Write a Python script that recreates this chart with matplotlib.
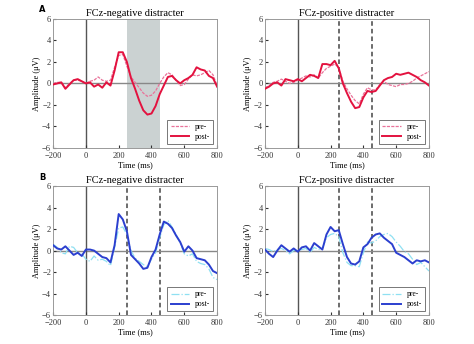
import numpy as np
import matplotlib.pyplot as plt

plt.rcParams['font.family'] = ['Liberation Serif', 'DejaVu Serif']

# time axis (ms), sampled every 25 ms
t = np.arange(-200, 801, 25)

# A: FCz-negative distracter (red)
neg_red_pre = [0.0, 0.1, 0.1, -0.4, 0.0, 0.3, 0.3, 0.2, 0.0, 0.2, 0.3, 0.6, 0.3, 0.2, 0.3, 1.5,
               2.6, 2.7, 1.6, 0.6, 0.1, -0.4, -0.9, -1.2, -1.1, -0.7, 0.0, 0.6, 1.0, 0.8, 0.3,
               -0.2, -0.1, 0.4, 0.8, 0.7, 0.8, 1.0, 1.2, 0.8, -0.2]
neg_red_post = [-0.1, 0.0, 0.1, -0.5, -0.1, 0.3, 0.4, 0.2, 0.0, 0.1, -0.3, -0.1, -0.4, 0.1, -0.2,
                1.2, 2.9, 2.9, 2.0, 0.5, -0.5, -1.6, -2.5, -2.9, -2.8, -2.1, -1.0, -0.2, 0.6, 0.7,
                0.3, 0.0, 0.3, 0.5, 0.8, 1.5, 1.3, 1.2, 0.7, 0.5, -0.3]

# A: FCz-positive distracter (red)
pos_red_pre = [-0.4, -0.2, 0.1, 0.2, 0.4, 0.2, 0.0, 0.1, 0.3, 0.5, 0.7, 0.6, 0.8, 0.5, 1.0, 1.4,
               1.6, 1.8, 1.5, 0.2, -0.5, -1.1, -1.6, -1.9, -1.0, -0.4, -0.6, -0.6, -0.1, 0.2,
               -0.1, -0.2, -0.3, -0.1, -0.1, 0.0, 0.2, 0.5, 0.7, 0.9, 1.1]
pos_red_post = [-0.5, -0.3, 0.0, 0.1, -0.2, 0.4, 0.3, 0.2, 0.4, 0.2, 0.5, 0.8, 0.7, 0.5, 1.8, 1.8,
                1.7, 2.1, 1.4, 0.0, -0.9, -1.7, -2.3, -2.2, -1.3, -0.7, -0.8, -0.7, -0.2, 0.3,
                0.5, 0.6, 0.9, 0.8, 0.9, 1.0, 0.8, 0.6, 0.3, 0.1, -0.2]

# B: FCz-negative distracter (blue)
neg_blue_pre = [0.6, 0.3, -0.2, -0.3, 0.4, 0.3, -0.2, -0.3, -0.8, -1.0, -0.5, -0.9, -0.8, -1.0,
                -1.4, 0.3, 2.1, 2.2, 1.5, 0.0, -0.7, -1.0, -1.3, -1.5, -0.8, -0.2, 1.2, 2.4, 2.8,
                2.2, 1.5, 0.7, -0.3, -0.5, -0.3, -1.0, -1.2, -1.3, -1.7, -2.5, -2.7]
neg_blue_post = [0.5, 0.2, 0.1, 0.4, 0.0, -0.4, -0.2, -0.5, 0.1, 0.1, 0.0, -0.3, -0.6, -0.7,
                 -1.1, 0.5, 3.4, 2.9, 1.8, -0.4, -0.8, -1.2, -1.7, -1.6, -0.6, 0.1, 1.5, 2.7, 2.5,
                 2.1, 1.4, 0.8, -0.1, 0.4, 0.0, -0.7, -0.8, -0.9, -1.3, -1.9, -2.1]

# B: FCz-positive distracter (blue)
pos_blue_pre = [0.2, 0.1, -0.1, 0.1, 0.2, 0.0, -0.3, 0.0, 0.0, 0.1, 0.2, -0.2, 0.3, 0.1, 0.2, 1.2,
                1.5, 1.6, 1.3, -0.2, -1.1, -1.4, -1.4, -1.5, -0.2, 0.8, 0.7, 0.9, 1.3, 1.5, 1.6,
                1.3, 0.8, 0.4, -0.1, -0.3, -0.8, -1.3, -1.1, -1.5, -1.9]
pos_blue_post = [0.1, -0.3, -0.6, 0.0, 0.5, 0.2, -0.1, 0.2, -0.1, 0.3, 0.4, 0.0, 0.7, 0.4, 0.1,
                 1.5, 2.2, 1.8, 1.9, 0.6, -0.6, -1.2, -1.3, -1.0, 0.3, 0.6, 1.2, 1.5, 1.6, 1.2,
                 0.9, 0.6, -0.2, -0.4, -0.6, -0.9, -1.2, -0.9, -1.0, -0.9, -1.1]

titles = ['FCz-negative distracter', 'FCz-positive distracter']
xticks = [-200, 0, 200, 400, 600, 800]
yticks = [-6, -4, -2, 0, 2, 4, 6]

red, pink = '#e3123f', '#e9739a'
blue, cyan = '#2b3fcf', '#8fe0f2'

fig = plt.figure(figsize=(4.74, 3.44), dpi=100)
boxes = [[0.112, 0.570, 0.346, 0.375], [0.559, 0.570, 0.346, 0.375],
         [0.112, 0.084, 0.346, 0.375], [0.559, 0.084, 0.346, 0.375]]
series = [(neg_red_pre, neg_red_post, pink, red),
          (pos_red_pre, pos_red_post, pink, red),
          (neg_blue_pre, neg_blue_post, cyan, blue),
          (pos_blue_pre, pos_blue_post, cyan, blue)]

for i, (box, (pre, post, c_pre, c_post)) in enumerate(zip(boxes, series)):
    ax = fig.add_axes(box)
    ax.set_xlim(-200, 800)
    ax.set_ylim(-6, 6)
    if i == 0:
        ax.axvspan(250, 450, color='#cbd2d2', lw=0, zorder=0)
    else:
        for x in (250, 450):
            ax.axvline(x, color='#444444', ls=(0, (3, 2)), lw=1.1, zorder=1)
    ax.axhline(0, color='#888888', lw=1.0, zorder=1)
    ax.axvline(0, color='#555555', lw=1.0, zorder=1)
    if c_post == red:
        ax.plot(t, pre, color=c_pre, lw=0.9, ls=(0, (2.5, 1)), label='pre-', zorder=2)
    else:
        ax.plot(t, pre, color=c_pre, lw=0.9, ls='-.', label='pre-', zorder=2)
    ax.plot(t, post, color=c_post, lw=1.4, label='post-', zorder=3)
    ax.set_xticks(xticks)
    ax.set_yticks(yticks)
    ax.tick_params(direction='in', length=2.5, labelsize=6, pad=1.5, colors='#333333')
    ax.tick_params(axis='x', pad=3)
    for s in ax.spines.values():
        s.set_color('#999999')
        s.set_linewidth(0.7)
    ax.set_title(titles[i % 2], fontsize=7.5, pad=2)
    ax.set_xlabel('Time (ms)', fontsize=6, labelpad=0.5)
    ax.set_ylabel('Amplitude (μV)', fontsize=6, labelpad=1)
    leg = ax.legend(loc='lower right', fontsize=5.5, handlelength=2.4, fancybox=False,
                    borderpad=0.4, labelspacing=0.25, handletextpad=0.8,
                    borderaxespad=0.5)
    leg.get_frame().set_edgecolor('#555555')
    leg.get_frame().set_linewidth(0.7)

fig.text(0.083, 0.965, 'A', fontsize=6, fontweight='bold', family='DejaVu Sans')
fig.text(0.083, 0.477, 'B', fontsize=6, fontweight='bold', family='DejaVu Sans')

fig.savefig('out.png', dpi=100)
